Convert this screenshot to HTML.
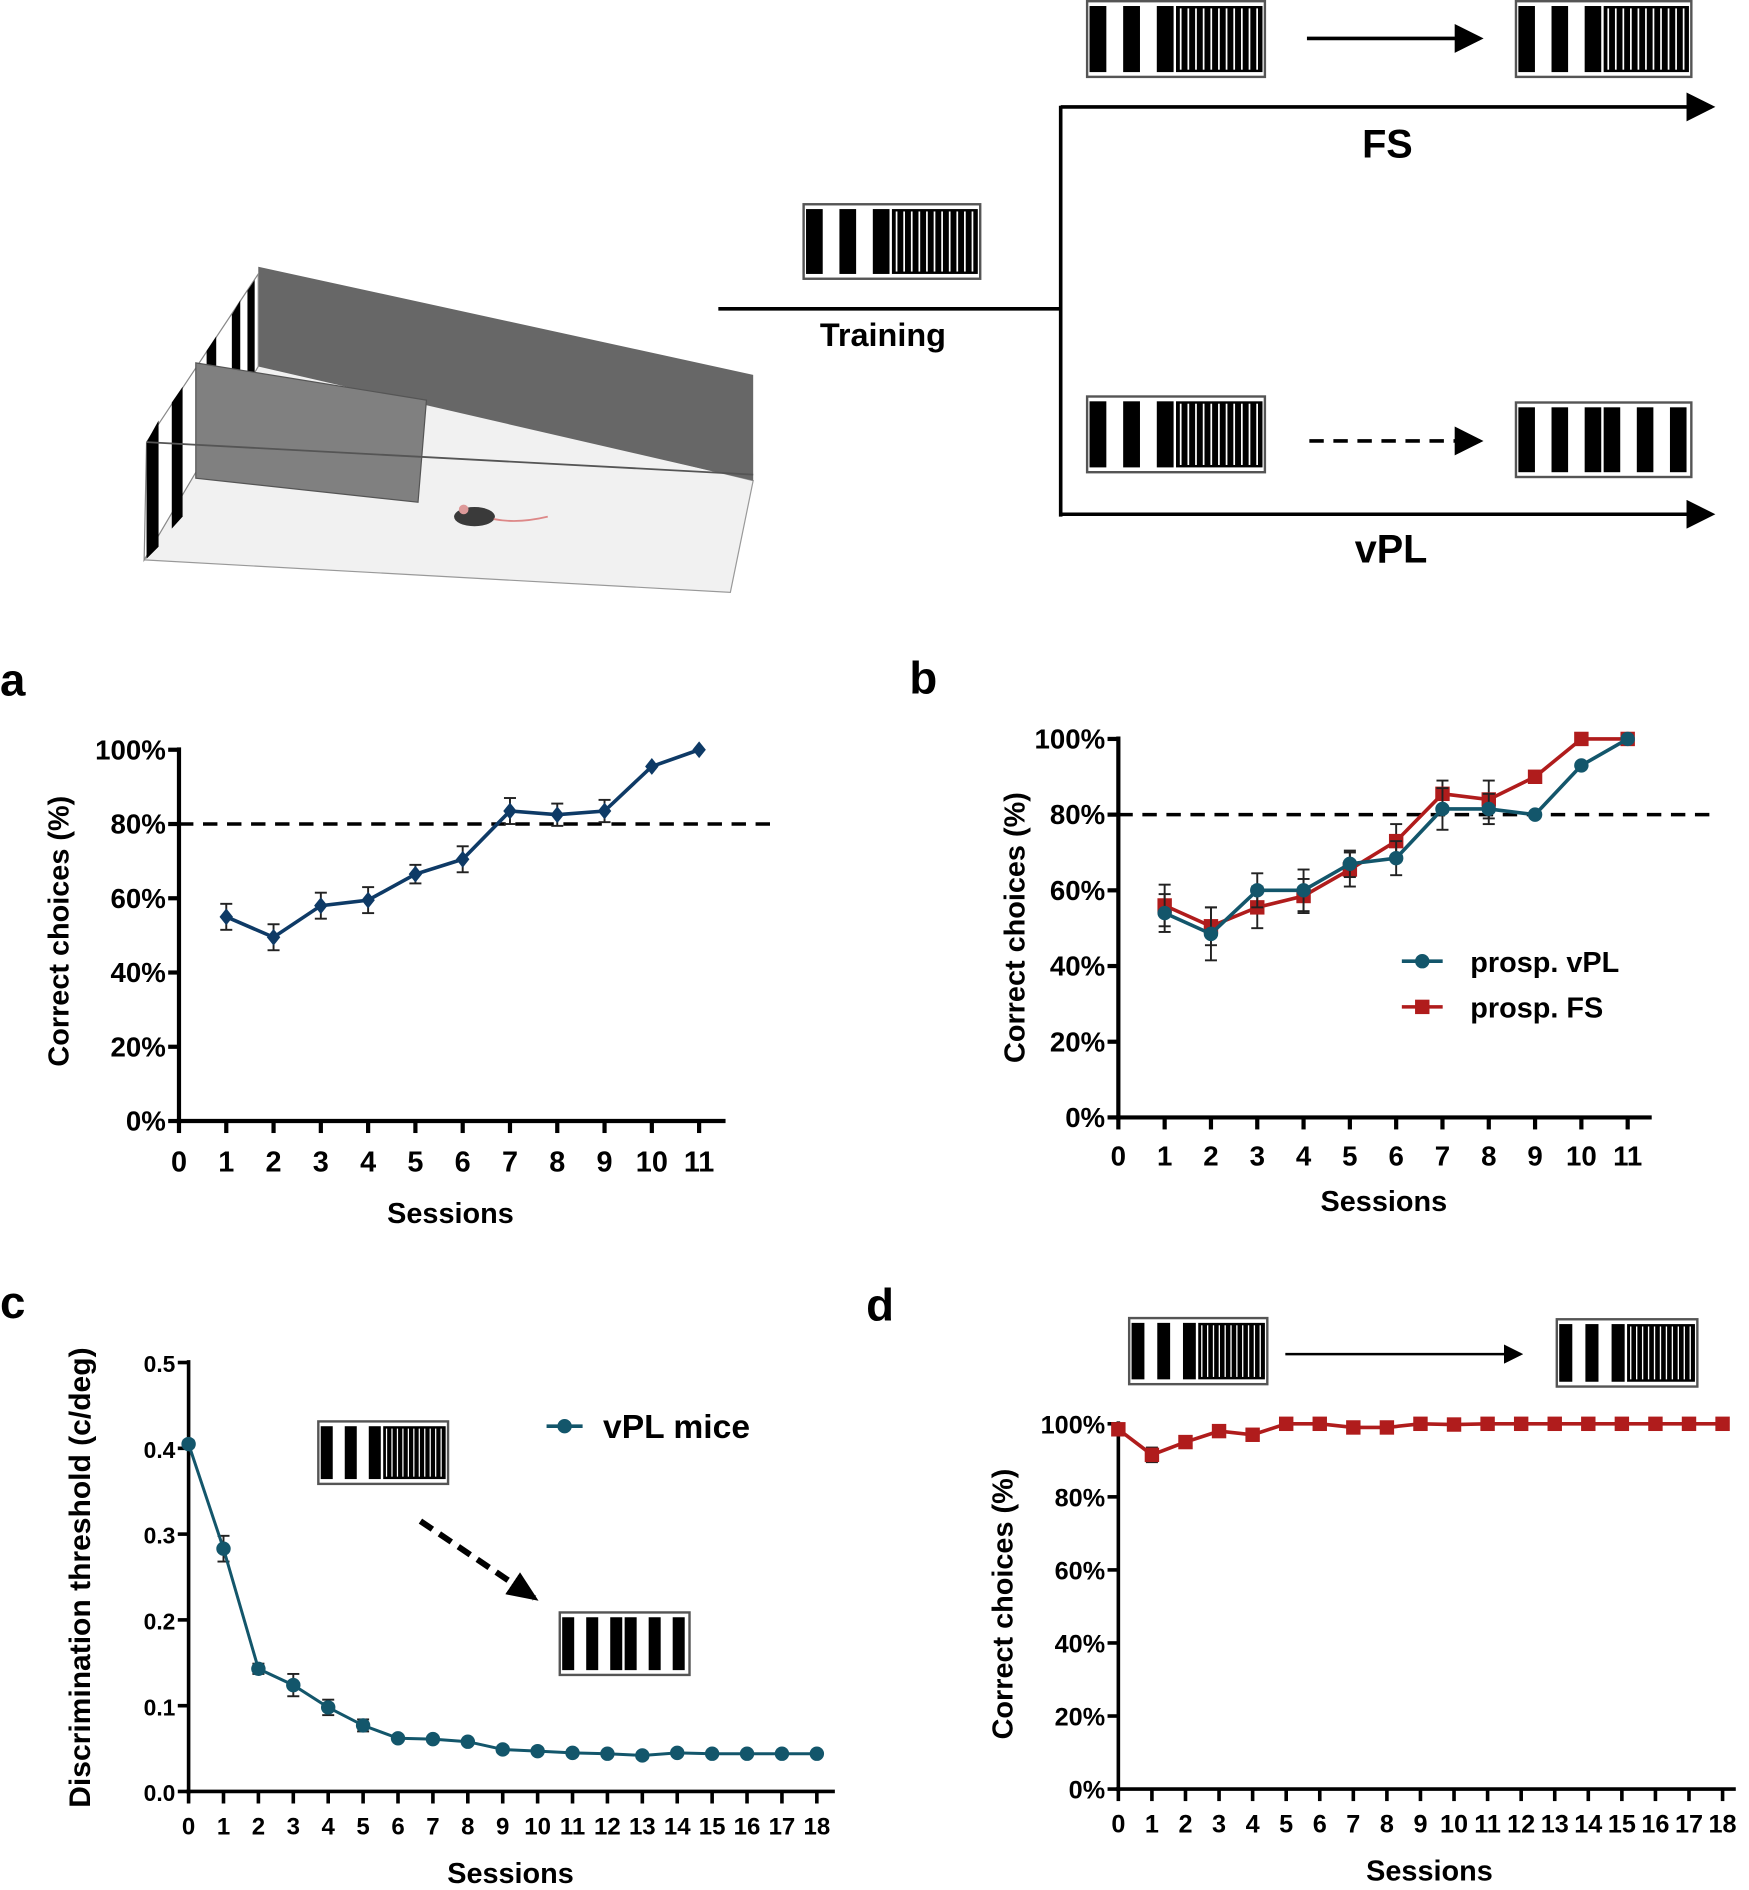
<!DOCTYPE html>
<html><head><meta charset="utf-8"><style>
html,body{margin:0;padding:0;background:#fff}
svg{display:block}
text{font-family:"Liberation Sans",Arial,sans-serif;font-weight:bold;fill:#000}
.n{font-family:"Liberation Sans Narrow","Liberation Sans",sans-serif}
</style></head><body>
<svg id="fig" xmlns="http://www.w3.org/2000/svg" width="1749" height="1890" viewBox="0 0 1456 1573" preserveAspectRatio="none">
<defs>
<marker id="ah" markerWidth="8" markerHeight="8" refX="7" refY="4" orient="auto" markerUnits="strokeWidth"><path d="M0,0 L8,4 L0,8 z" fill="#000"/></marker>
<marker id="ah2" markerWidth="26" markerHeight="22" refX="22" refY="11" orient="auto" markerUnits="userSpaceOnUse"><path d="M0,0 L26,11 L0,22 z" fill="#000"/></marker>
</defs>
<g>
<polygon points="120,466 608,493 627,400 215,300" fill="#f1f1f1" stroke="#999" stroke-width="1"/>
<polygon points="215,222 627,312 627,400 215,305" fill="#676767"/>
<polygon points="120,466 122,368 215,228 215,305" fill="#fff" stroke="#888"/>
<g fill="#000">
<polygon points="122,368 132,350 132,455 122,465"/><polygon points="143,335 152,322 152,430 143,440"/><polygon points="172,292 180,280 180,390 172,398"/><polygon points="193,262 200,250 200,360 193,368"/><polygon points="206,242 212,233 212,340 206,348"/>
</g>
<polygon points="163,302 355,333 348,418 163,398" fill="#808080" stroke="#555"/>
<line x1="122" y1="368" x2="627" y2="395" stroke="#555" stroke-width="1.5"/>
<ellipse cx="395" cy="430" rx="17" ry="8" fill="#3a3a3a"/>
<circle cx="386" cy="424" r="4" fill="#d99"/>
<path d="M411,432 q20,4 45,-2" stroke="#d88" fill="none" stroke-width="1.5"/>
</g>
<g id="schema">
<line x1="598" y1="257" x2="884" y2="257" stroke="#000" stroke-width="3"/>
<line x1="883" y1="88" x2="883" y2="430" stroke="#000" stroke-width="3"/>
<line x1="883" y1="89" x2="1425" y2="89" stroke="#000" stroke-width="3" marker-end="url(#ah)"/>
<line x1="883" y1="428" x2="1425" y2="428" stroke="#000" stroke-width="3" marker-end="url(#ah)"/>
<line x1="1088" y1="32" x2="1232" y2="32" stroke="#000" stroke-width="3" marker-end="url(#ah)"/>
<line x1="1090" y1="367" x2="1232" y2="367" stroke="#000" stroke-width="3" stroke-dasharray="12,8" marker-end="url(#ah)"/>
<text x="735" y="288" font-size="27" text-anchor="middle">Training</text>
<text x="1155" y="131" font-size="33" text-anchor="middle">FS</text>
<text x="1158" y="468" font-size="33" text-anchor="middle">vPL</text>
</g>
<text x="0" y="579" font-size="38">a</text>
<text x="757" y="577" font-size="38">b</text>
<text x="0" y="1097" font-size="38">c</text>
<text x="721" y="1099" font-size="38">d</text>
</svg>
<script>
const NS='http://www.w3.org/2000/svg';
const svg=document.getElementById('fig');
function mk(tag,attrs,parent,name){const el=document.createElementNS(NS,tag);for(const k in attrs)el.setAttribute(k,attrs[k]);


(parent||svg).appendChild(el);return el;}

// ---- data ----
const sessionsAB=[0,1,2,3,4,5,6,7,8,9,10,11];
const aX=[1,2,3,4,5,6,7,8,9,10,11];
const aVals=[55,49.5,58,59.5,66.5,70.5,83.5,82.5,83.5,95.5,100];
const aErr=[3.5,3.5,3.5,3.5,2.5,3.5,3.5,3,3,0,0];
const bVpl=[54,48.5,60,60,67,68.5,81.5,81.5,80,93,100];
const bVplErr=[5,7,4.5,5.5,3.5,4.5,5.5,4,0,0,0];
const bFs=[56,50.5,55.5,58.5,65.5,73,85.5,84,90,100,100];
const bFsErr=[5.5,5,5.5,4.5,4.5,4.5,3.5,5,0,0,0];
const pctTicks=[0,20,40,60,80,100];
const pctLabels=['0%','20%','40%','60%','80%','100%'];
const sessionsCD=[0,1,2,3,4,5,6,7,8,9,10,11,12,13,14,15,16,17,18];
const cVals=[0.405,0.283,0.143,0.124,0.098,0.077,0.062,0.061,0.058,0.049,0.047,0.045,0.044,0.042,0.045,0.044,0.044,0.044,0.044];
const cErr=[0.004,0.015,0.006,0.013,0.009,0.007,0.003,0.003,0.003,0.003,0.002,0.002,0.002,0.002,0.002,0.002,0.002,0.002,0.002];
const cTicks=[0,0.1,0.2,0.3,0.4,0.5];
const cLabels=['0.0','0.1','0.2','0.3','0.4','0.5'];
const dVals=[98.5,91.5,95,98,97,100,100,99,99,100,99.8,100,100,100,100,100,100,100,100];
const dErr=[1,2,1.5,1,1.5,0,0,1,1,0,0,0,0,0,0,0,0,0,0];

function axes(o){
  const g=mk('g',{},svg,o.name);
  const sx=v=>o.x0+(v-o.xmin)*(o.x1-o.x0)/(o.xmax-o.xmin);
  const sy=v=>o.y0+(v-o.ymin)*(o.y1-o.y0)/(o.ymax-o.ymin);
  mk('line',{x1:o.x0,y1:o.y0+2,x2:o.x0,y2:o.y1-2,stroke:'#000','stroke-width':o.lw},g,'y-axis');
  mk('line',{x1:o.x0-2,y1:o.y0,x2:o.xend,y2:o.y0,stroke:'#000','stroke-width':o.lw},g,'x-axis');
  o.yt.forEach((v,i)=>{const y=sy(v);
    mk('line',{x1:o.x0-9,y1:y,x2:o.x0,y2:y,stroke:'#000','stroke-width':o.lw},g,'y-tick');
    const t=mk('text',{x:o.x0-11,y:y+8,'font-size':o.yfs,'text-anchor':'end',class:'n'},g,'y-tick-label');t.textContent=o.yl[i];});
  o.xt.forEach(v=>{const x=sx(v);
    mk('line',{x1:x,y1:o.y0,x2:x,y2:o.y0+10,stroke:'#000','stroke-width':o.lw},g,'x-tick');
    const t=mk('text',{x:x,y:o.y0+o.xlo,'font-size':o.xfs,'text-anchor':'middle',class:'n'},g,'x-tick-label');t.textContent=v;});
  const xt=mk('text',{x:o.xtx,y:o.xty,'font-size':24,'text-anchor':'middle'},g,'x-axis-title');xt.textContent='Sessions';
  const yt=mk('text',{x:0,y:0,'font-size':o.ytfs||24,'text-anchor':'middle',transform:`translate(${o.ytx},${o.yty}) rotate(-90)`},g,'y-axis-title');yt.textContent=o.ytitle;
  return {g,sx,sy};
}
function series(ax,xs,vals,errs,color,shape,name,ms,lw){
  const g=mk('g',{},ax.g,name);
  xs.forEach((x,i)=>{const e=errs[i];if(e>0){const X=ax.sx(x),a=ax.sy(vals[i]+e),b=ax.sy(vals[i]-e);
    mk('line',{x1:X,y1:a,x2:X,y2:b,stroke:'#222','stroke-width':1.6},g,'error-bar');
    mk('line',{x1:X-5,y1:a,x2:X+5,y2:a,stroke:'#222','stroke-width':1.6},g,'error-cap');
    mk('line',{x1:X-5,y1:b,x2:X+5,y2:b,stroke:'#222','stroke-width':1.6},g,'error-cap');}});
  mk('polyline',{points:xs.map((x,i)=>ax.sx(x)+','+ax.sy(vals[i])).join(' '),fill:'none',stroke:color,'stroke-width':lw||3},g,'line');
  xs.forEach((x,i)=>marker(g,ax.sx(x),ax.sy(vals[i]),color,shape,ms||6));
}
function marker(g,X,Y,color,shape,s){
  if(shape==='c')mk('circle',{cx:X,cy:Y,r:s,fill:color},g,'point');
  else if(shape==='s')mk('rect',{x:X-s,y:Y-s,width:2*s,height:2*s,fill:color},g,'point');
  else mk('polygon',{points:`${X},${Y-s} ${X+s*0.8},${Y} ${X},${Y+s} ${X-s*0.8},${Y}`,fill:color},g,'point');
}
// panel a
const A=axes({name:'chart-a',x0:149,x1:582,xmin:0,xmax:11,y0:933,y1:624,ymin:0,ymax:100,xend:604,lw:3.5,
  yt:pctTicks,yl:pctLabels,xt:sessionsAB,yfs:23,xfs:24,xlo:42,xtx:375,xty:1018,ytx:57,yty:775,ytitle:'Correct choices (%)'});
mk('line',{x1:149,y1:A.sy(80),x2:648,y2:A.sy(80),stroke:'#000','stroke-width':3,'stroke-dasharray':'12,8'},A.g,'threshold-80-line');
series(A,aX,aVals,aErr,'#0e3a66','d','series-a',7);
// panel b
const B=axes({name:'chart-b',x0:931,x1:1355,xmin:0,xmax:11,y0:930,y1:615,ymin:0,ymax:100,xend:1375,lw:3.5,
  yt:pctTicks,yl:pctLabels,xt:sessionsAB,yfs:23,xfs:23,xlo:40,xtx:1152,xty:1008,ytx:853,yty:772,ytitle:'Correct choices (%)'});
mk('line',{x1:931,y1:B.sy(80),x2:1428,y2:B.sy(80),stroke:'#000','stroke-width':3,'stroke-dasharray':'12,8'},B.g,'threshold-80-line');
series(B,aX,bFs,bFsErr,'#b01c1c','s','series-prosp-fs',6);
series(B,aX,bVpl,bVplErr,'#13566b','c','series-prosp-vpl',6);
const lg=mk('g',{},B.g,'legend');
mk('line',{x1:1167,y1:800,x2:1201,y2:800,stroke:'#13566b','stroke-width':3},lg,'legend-vpl-line');marker(lg,1184,800,'#13566b','c',6);
const lt1=mk('text',{x:1224,y:809,'font-size':24},lg,'legend-vpl-label');lt1.textContent='prosp. vPL';
mk('line',{x1:1167,y1:838,x2:1201,y2:838,stroke:'#b01c1c','stroke-width':3},lg,'legend-fs-line');marker(lg,1184,838,'#b01c1c','s',6);
const lt2=mk('text',{x:1224,y:847,'font-size':24},lg,'legend-fs-label');lt2.textContent='prosp. FS';
// panel c
const C=axes({name:'chart-c',x0:157,x1:680,xmin:0,xmax:18,y0:1491,y1:1134,ymin:0,ymax:0.5,xend:695,lw:3,
  yt:cTicks,yl:cLabels,xt:sessionsCD,yfs:19,xfs:20,xlo:36,xtx:425,xty:1567,ytx:75,yty:1313,ytfs:25,ytitle:'Discrimination threshold (c/deg)'});
series(C,sessionsCD,cVals,cErr,'#13566b','c','series-vpl-mice',6,2.5);
mk('line',{x1:455,y1:1187,x2:485,y2:1187,stroke:'#13566b','stroke-width':3},C.g,'legend-line');marker(C.g,470,1187,'#13566b','c',6);
const lc=mk('text',{x:502,y:1197,'font-size':28},C.g,'legend-label');lc.textContent='vPL mice';
mk('line',{x1:350,y1:1266,x2:445,y2:1330,stroke:'#000','stroke-width':5,'stroke-dasharray':'12,7','marker-end':'url(#ah2)'},C.g,'dashed-arrow');
// panel d
const D=axes({name:'chart-d',x0:931,x1:1434,xmin:0,xmax:18,y0:1489,y1:1185,ymin:0,ymax:100,xend:1445,lw:3,
  yt:pctTicks,yl:pctLabels,xt:sessionsCD,yfs:21,xfs:21,xlo:36,xtx:1190,xty:1565,ytx:843,yty:1335,ytitle:'Correct choices (%)'});
series(D,sessionsCD,dVals,dErr,'#b01c1c','s','series-d',6);
mk('line',{x1:1070,y1:1127,x2:1266,y2:1127,stroke:'#000','stroke-width':2,'marker-end':'url(#ah)'},D.g,'arrow');

// gratings
function grating(x,y,w,h,rightFine,name){
  const g=mk('g',{},svg,name);
  mk('rect',{x:x,y:y,width:w,height:h,fill:'#fff',stroke:'#555','stroke-width':2},g,'grating-frame');
  const hw=w/2, p=4;
  const cw=(hw-p)/5;
  for(let i=0;i<5;i+=2)mk('rect',{x:x+p/2+i*cw,y:y+p,width:cw,height:h-2*p,fill:'#000'},g,'bar');
  if(rightFine){const n=22,fw=(hw-p)/n;
    mk('rect',{x:x+hw,y:y+p,width:hw-p/2,height:h-2*p,fill:'#000'},g,'bar');
    for(let i=1;i<n;i+=2)mk('rect',{x:x+hw+i*fw,y:y+p+2,width:fw*0.45,height:h-2*p-4,fill:'#fff'},g,'line');
  }else{for(let i=0;i<5;i+=2)mk('rect',{x:x+hw+i*cw,y:y+p,width:cw,height:h-2*p,fill:'#000'},g,'bar');}
}
grating(669,170,147,62,true,'grating-training');
grating(905,1,148,63,true,'grating-fs-start');
grating(1262,1,146,63,true,'grating-fs-end');
grating(905,330,148,63,true,'grating-vpl-start');
grating(1262,335,146,62,false,'grating-vpl-end');
grating(265,1183,108,52,true,'grating-c-start');
grating(466,1342,108,52,false,'grating-c-end');
grating(940,1097,115,55,true,'grating-d-start');
grating(1296,1098,117,56,true,'grating-d-end');
</script>
</body></html>
